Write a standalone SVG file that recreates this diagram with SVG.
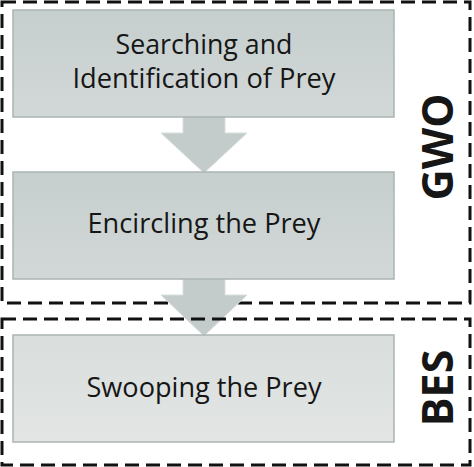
<svg xmlns="http://www.w3.org/2000/svg" width="474" height="467" viewBox="0 0 474 467">
<style>
.frame{fill:none;stroke:#111;stroke-width:3;stroke-dasharray:14 7}
.box{stroke:#aab5b3;stroke-width:1.5}
.arrow{fill:#c3cccb;stroke:#d9dfde;stroke-width:1}
.t{font-family:"Open Sans","Noto Sans",sans-serif;font-size:26.5px;fill:#161616;text-anchor:middle}
.lbl{font-family:"Open Sans","Noto Sans",sans-serif;font-size:43px;font-weight:bold;fill:#161616;text-anchor:middle}
</style>
<defs>
<linearGradient id="g1" x1="0" y1="0" x2="0" y2="1">
<stop offset="0" stop-color="#c6cfce"/>
<stop offset="1" stop-color="#d2d8d7"/>
</linearGradient>
<linearGradient id="g3" x1="0" y1="0" x2="0" y2="1">
<stop offset="0" stop-color="#d9dedd"/>
<stop offset="1" stop-color="#e2e5e4"/>
</linearGradient>
</defs>
<g id="gwo-frame">
<rect class="frame" x="2" y="2" width="468" height="301"/>
<text class="lbl" transform="translate(453,147) rotate(-90)">GWO</text>
</g>
<g id="connectors">
<polygon class="arrow" points="183,116 225,116 225,133 247,133 204,173 161,133 183,133"/>
<polygon class="arrow" points="183,278 225,278 225,295 247,295 204,336 161,295 183,295"/>
</g>
<g id="bes-frame">
<rect class="frame" x="2" y="319" width="468" height="146"/>
<text class="lbl" transform="translate(453,388) rotate(-90)">BES</text>
</g>
<g id="node1">
<rect class="box" x="13" y="10" width="381" height="107" fill="url(#g1)"/>
<text class="t" x="204" y="54" textLength="177" lengthAdjust="spacingAndGlyphs">Searching and</text>
<text class="t" x="204" y="88" textLength="263" lengthAdjust="spacingAndGlyphs">Identification of Prey</text>
</g>
<g id="node2">
<rect class="box" x="13" y="172" width="381" height="107" fill="url(#g1)"/>
<text class="t" x="204" y="233" textLength="233" lengthAdjust="spacingAndGlyphs">Encircling the Prey</text>
</g>
<g id="node3">
<rect class="box" x="13" y="335" width="381" height="107" fill="url(#g3)"/>
<text class="t" x="204" y="397" textLength="235" lengthAdjust="spacingAndGlyphs">Swooping the Prey</text>
</g>
</svg>
